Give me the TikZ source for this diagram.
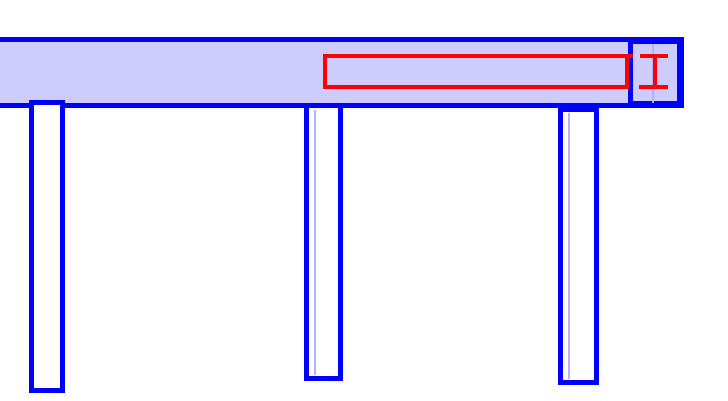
\documentclass[tikz,border=0pt]{standalone}
\usepackage{tikz}

\tikzset{
    beam/.style={draw=blue, fill=blue!20, line width=5pt},
    post/.style={draw=blue, fill=white, line width=5pt},
    endblock/.style={draw=blue, line width=5pt},
    guide/.style={draw=blue!60!white!50, line width=1.5pt},
    slot/.style={draw=red, line width=4.5pt}
}

\begin{document}
\begin{tikzpicture}[x=1pt, y=-1pt]
    \useasboundingbox (0,0) rectangle (728,401);
    \clip (0,0) rectangle (728,401);

    % Top beam
    \draw [beam] (-10,40) rectangle (681,106);

    % End block of the beam
    \draw [endblock] (630,42) rectangle (679,104);
    \draw [guide] (653,44) -- (653,103);

    % Red slot and marker
    \draw [slot] (325,56) rectangle (627,87);
    \draw [slot] (627,56) -- (633,56);
    \draw [slot] (640,56) -- (668,56);
    \draw [slot] (655,56) -- (655,87);
    \draw [slot] (639,87) -- (668,87);

    % Posts
    \draw [post] (31,103) rectangle (62,390);
    \draw [post] (306,106) rectangle (340,378);
    \draw [guide] (315,110) -- (315,375);
    \draw [post] (560,110) rectangle (596,382);
    \draw [guide] (569,113) -- (569,379);
\end{tikzpicture}
\end{document}
